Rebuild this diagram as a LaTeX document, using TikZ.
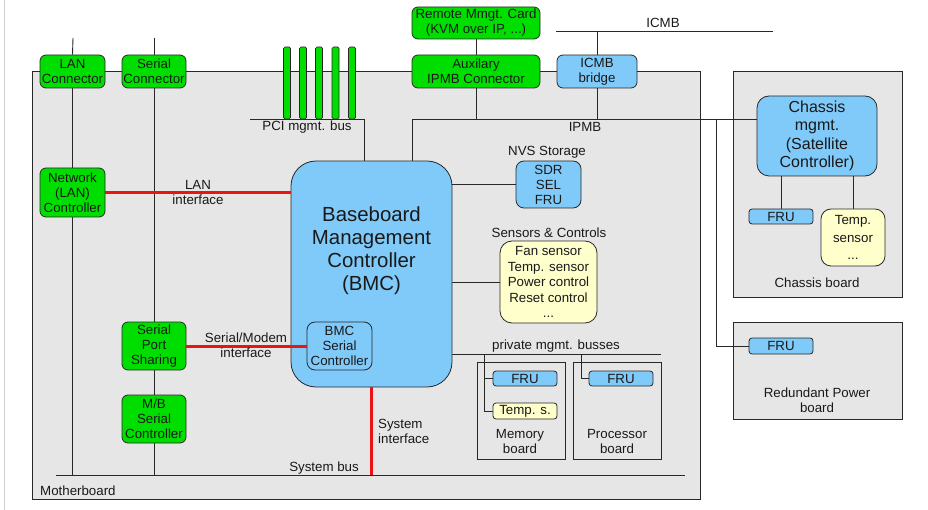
\documentclass[tikz,border=0pt]{standalone}
\usepackage{fontspec}
\setmainfont{Liberation Sans}
\definecolor{boxgreen}{RGB}{0,222,0}
\definecolor{boxblue}{RGB}{128,202,250}
\definecolor{boxyellow}{RGB}{255,255,204}
\definecolor{boardgray}{RGB}{230,230,230}
\definecolor{linkred}{RGB}{235,20,20}
\definecolor{wiregray}{RGB}{40,40,40}
\definecolor{txt}{RGB}{25,25,25}
\pgfdeclarelayer{boards}
\pgfdeclarelayer{wires}
\pgfsetlayers{boards,wires,main}
\newcommand{\smallfs}{\fontsize{13.3}{15}\selectfont}
\tikzset{
  lbl/.style={font=\smallfs, inner sep=0pt, align=center, text=txt},
  boxbase/.style={draw=wiregray, line width=0.8pt, inner sep=0pt, align=center, font=\smallfs, text=txt},
  gbox/.style={boxbase, fill=boxgreen, rounded corners=6pt},
  bbox/.style={boxbase, fill=boxblue, rounded corners=6pt},
  ybox/.style={boxbase, fill=boxyellow, rounded corners=10pt},
  frubox/.style={boxbase, fill=boxblue, rounded corners=3pt, minimum width=64pt, minimum height=15pt},
  board/.style={draw=wiregray, line width=0.8pt, fill=boardgray, inner sep=0pt},
  slot/.style={draw=wiregray, line width=0.7pt, fill=boxgreen, rounded corners=1.5pt, minimum width=7pt, minimum height=72pt, inner sep=0pt},
  wire/.style={draw=wiregray, line width=0.9pt},
  rwire/.style={draw=linkred, line width=3pt},
}
\begin{document}
\begin{tikzpicture}[x=1pt,y=-1pt]
\useasboundingbox (0,0) rectangle (928,510);

% boards
\begin{pgfonlayer}{boards}
\draw[black!18, line width=0.8pt] (4.5,0) -- (4.5,510);
\node[board, minimum width=668pt, minimum height=428pt] (mb) at (366,285) {};
\node[board, minimum width=169pt, minimum height=226pt] (chb) at (817.5,184) {};
\node[board, minimum width=169pt, minimum height=97pt] (rpb) at (817.5,370.5) {};
\node[board, minimum width=88pt, minimum height=97pt] (memb) at (521,410.5) {};
\node[board, minimum width=88pt, minimum height=97pt] (procb) at (617,410.5) {};
\end{pgfonlayer}

% green boxes
\node[gbox, minimum width=65pt, minimum height=33pt] (lanconn) at (72.5,71.5) {LAN\\Connector};
\node[gbox, minimum width=64pt, minimum height=33pt] (serconn) at (154,71.5) {Serial\\Connector};
\node[gbox, minimum width=65pt, minimum height=49pt] (netctrl) at (72.5,192.5) {Network\\(LAN)\\Controller};
\node[gbox, minimum width=64pt, minimum height=48pt] (sps) at (154,346) {Serial\\Port\\Sharing};
\node[gbox, minimum width=64pt, minimum height=48pt] (mbsc) at (154,419) {M/B\\Serial\\Controller};
\node[gbox, minimum width=128pt, minimum height=32pt] (rmc) at (476,23) {Remote Mmgt. Card\\(KVM over IP, ...)};
\node[gbox, minimum width=128pt, minimum height=33pt] (aux) at (476,71.5) {Auxilary\\IPMB Connector};

% PCI slots
\node[slot] (s1) at (287,83) {};
\node[slot] (s2) at (303,83) {};
\node[slot] (s3) at (319,83) {};
\node[slot] (s4) at (335.5,83) {};
\node[slot] (s5) at (352,83) {};

% blue boxes
\node[bbox, minimum width=80pt, minimum height=33pt] (icmb) at (597,71.5) {ICMB\\bridge};
\node[bbox, rounded corners=25pt, minimum width=161pt, minimum height=226pt] (bmc) at (371.5,274) {};
\node[lbl, font=\fontsize{20.4}{23}\selectfont] (bmctext) at (371.5,251) {Baseboard\\Management\\Controller\\(BMC)};
\node[bbox, rounded corners=8pt, minimum width=65pt, minimum height=48pt] (bsc) at (339.5,346) {BMC\\Serial\\Controller};
\node[bbox, rounded corners=8pt, minimum width=65pt, minimum height=47pt] (nvs) at (548.5,184.5) {SDR\\SEL\\FRU};
\node[ybox, rounded corners=12pt, minimum width=97pt, minimum height=82pt, font=\fontsize{13.3}{15.5}\selectfont] (sens) at (548.5,282) {Fan sensor\\Temp. sensor\\Power control\\Reset control\\...};
\node[bbox, rounded corners=12pt, minimum width=120pt, minimum height=80pt, font=\fontsize{16}{18.3}\selectfont] (cmgmt) at (817,136) {Chassis\\mgmt.\\(Satellite\\Controller)};
\node[frubox] (cfru) at (781,216.5) {FRU};
\node[ybox, minimum width=64pt, minimum height=57pt, font=\fontsize{13.3}{17.5}\selectfont] (ctemp) at (853,237.5) {Temp.\\sensor\\...};
\node[frubox, minimum height=16pt] (rfru) at (781,346) {FRU};
\node[frubox] (mfru) at (525,378.5) {FRU};
\node[frubox, fill=boxyellow, minimum height=16pt] (mtemp) at (525,411) {Temp. s.};
\node[frubox] (pfru) at (621,378.5) {FRU};

% bus coordinates
\coordinate (icmbL) at (556,31);
\coordinate (icmbR) at (773,31);
\coordinate (ipmbL) at (412,119);
\coordinate (tap) at (716,119);
\coordinate (pciL) at (250,119);
\coordinate (pciR) at (364,119);
\coordinate (privR) at (661,354);
\coordinate (sysL) at (56,475);
\coordinate (sysR) at (685,475);
\coordinate (lantop) at (73,38);
\coordinate (sertop) at (154,38);
\coordinate (memtap) at (484,354);
\coordinate (proctap) at (581,354);

% black wires
\begin{pgfonlayer}{wires}
\draw[wire] (icmbL) -- (icmbR);
\draw[wire] (icmb.north) -- (icmb.north |- icmbL);
\draw[wire] (rmc.south) -- (aux.north);
\draw[wire] (aux.south) -- (aux.south |- ipmbL);
\draw[wire] (ipmbL) -- (ipmbL -| cmgmt.west);
\draw[wire] (ipmbL) -- (ipmbL |- bmc.north);
\draw[wire] (icmb.south) -- (icmb.south |- ipmbL);
\draw[wire] (tap) |- (rfru.west);
\draw[wire] (cfru.north) -- (cfru.north |- cmgmt.south);
\draw[wire] (ctemp.north) -- (ctemp.north |- cmgmt.south);
\draw[wire] (pciL) -- (pciR);
\draw[wire] (pciR) -- (pciR |- bmc.north);
\draw[wire] (bmc.east |- nvs.west) -- (nvs.west);
\draw[wire] (bmc.east |- sens.west) -- (sens.west);
\draw[wire] (bmc.east |- privR) -- (privR);
\draw[wire] (memtap) |- (mtemp.west);
\draw[wire] (memtap |- mfru.west) -- (mfru.west);
\draw[wire] (proctap) |- (pfru.west);
\draw[wire] (sysL) -- (sysR);
\draw[wire] (lantop) -- (lanconn.north);
\draw[wire] (lanconn.south) -- (netctrl.north);
\draw[wire] (netctrl.south) -- (netctrl.south |- sysL);
\draw[wire] (sertop) -- (serconn.north);
\draw[wire] (serconn.south) -- (sps.north);
\draw[wire] (sps.south) -- (mbsc.north);
\draw[wire] (mbsc.south) -- (mbsc.south |- sysL);
\end{pgfonlayer}

% red links
\draw[rwire] (netctrl.east) -- (netctrl.east -| bmc.west);
\draw[rwire] (sps.east) -- (bsc.west);
\draw[rwire] (bmc.south) -- (bmc.south |- sysL);

% labels
\node[lbl] (licmb) at (663,23) {ICMB};
\node[lbl] (lipmb) at (585,127) {IPMB};
\node[lbl] (lpci) at (307,127) {PCI mgmt. bus};
\node[lbl] (llan) at (198,192) {LAN\\interface};
\node[lbl] (lnvs) at (547,152) {NVS Storage};
\node[lbl] (lsens) at (549,233) {Sensors \& Controls};
\node[lbl] (lpriv) at (556,346) {private mgmt. busses};
\node[lbl] (lser) at (246,345.5) {Serial/Modem\\interface};
\node[lbl, align=left, anchor=west] (lsysif) at (378,431) {System\\interface};
\node[lbl] (lsysbus) at (324,468) {System bus};
\node[lbl, anchor=west] (lmb) at (40,491) {Motherboard};
\node[lbl] (lchb) at (817,283) {Chassis board};
\node[lbl] (lrpb) at (817,400.5) {Redundant Power\\board};
\node[lbl] (lmemb) at (520,441.5) {Memory\\board};
\node[lbl] (lprocb) at (617,441.5) {Processor\\board};
\end{tikzpicture}
\end{document}
